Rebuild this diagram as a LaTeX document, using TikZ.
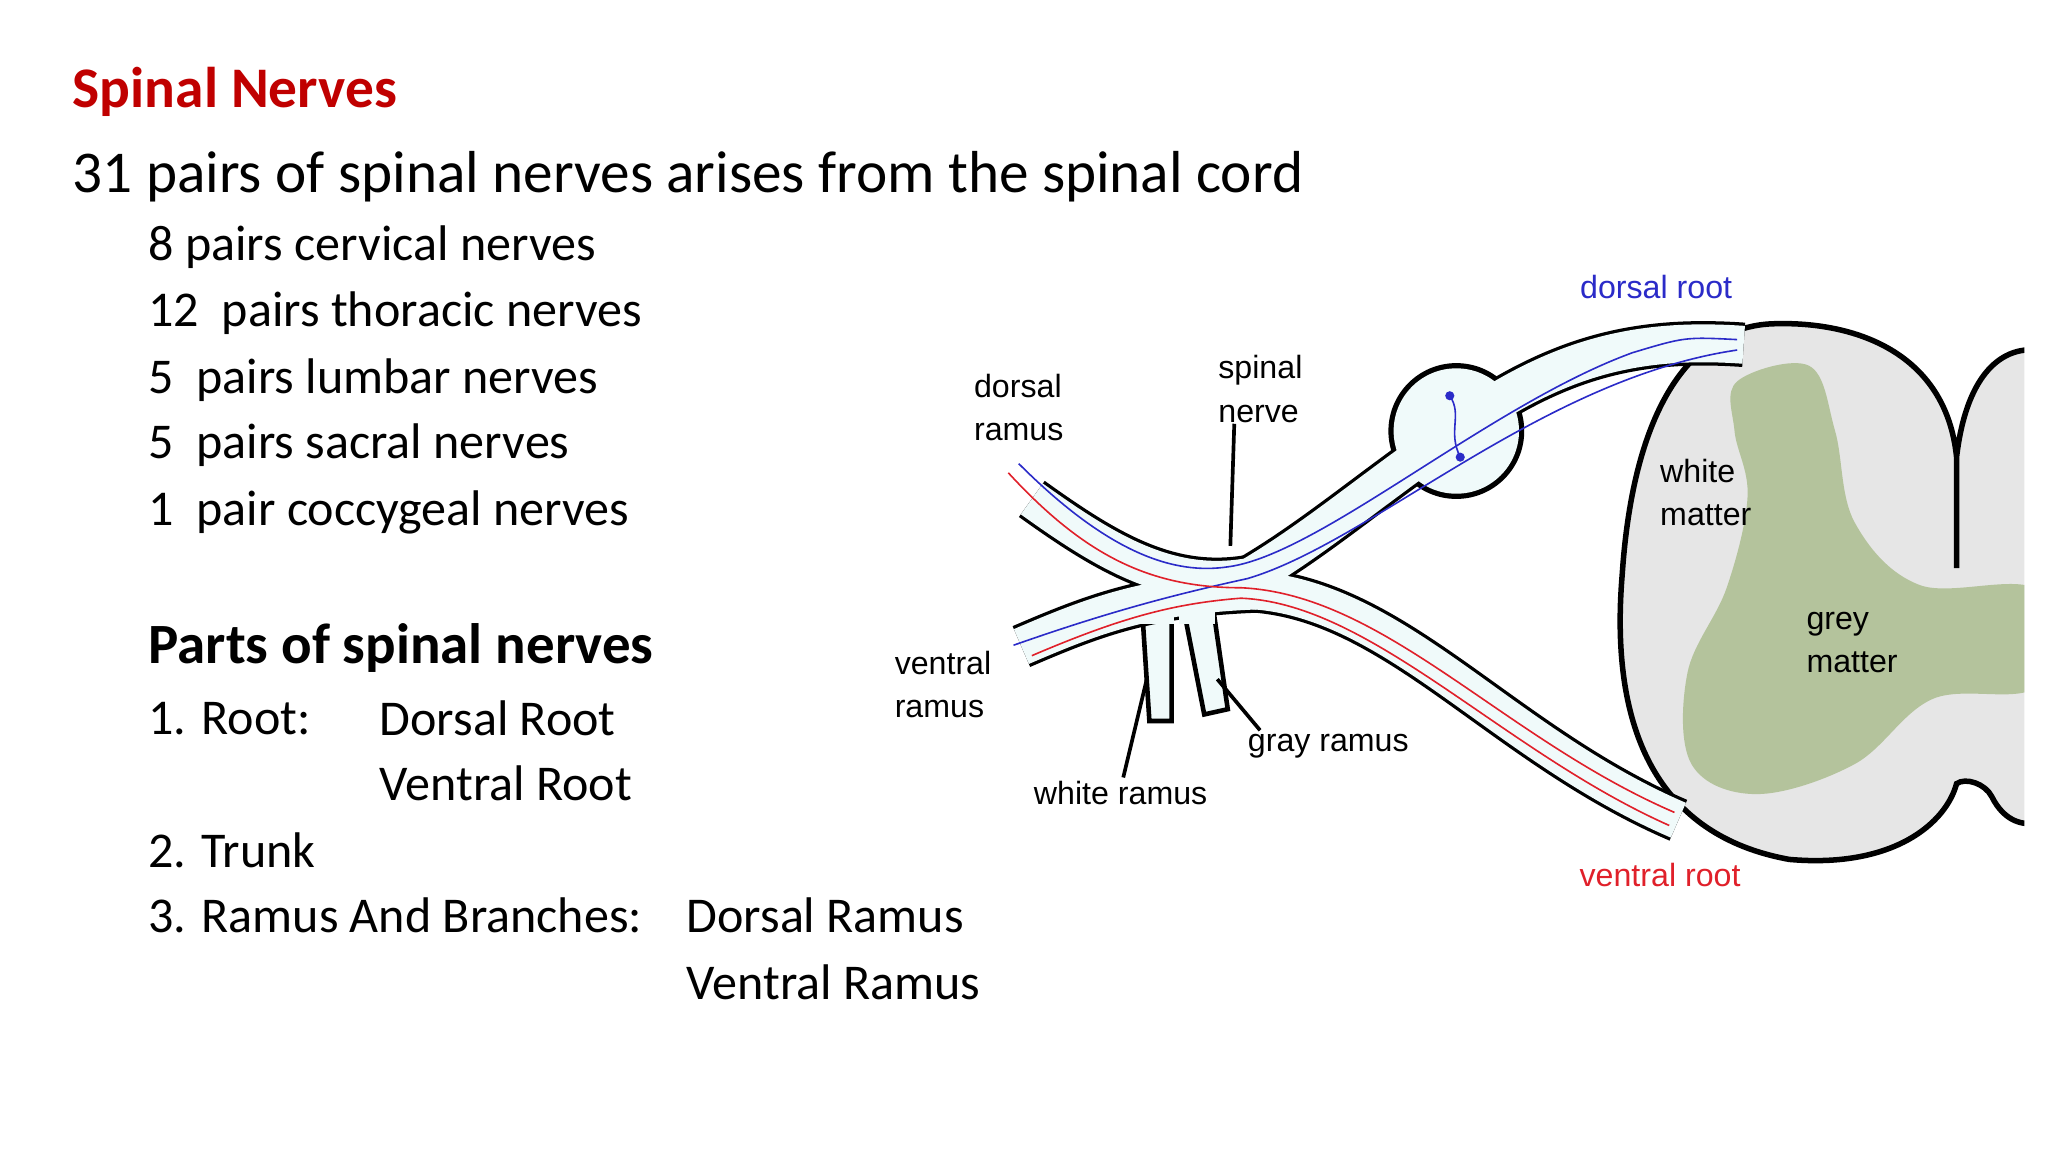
\documentclass[tikz,border=0pt]{standalone}
\usepackage{fontspec}
\setmainfont{Carlito}
\newfontfamily\lbl{Liberation Sans}
\definecolor{titred}{HTML}{C00000}
\definecolor{nervefill}{HTML}{F0FAFA}
\definecolor{wmat}{HTML}{E6E6E6}
\definecolor{gmat}{HTML}{B4C39C}
\definecolor{dblue}{HTML}{2B2BC8}
\definecolor{vred}{HTML}{E0202A}
\begin{document}
\begin{tikzpicture}[x=0.01cm, y=-0.01cm,
                    txt/.style={anchor=west, inner sep=0pt, font=\fontsize{12.9}{15}\selectfont},
                    sub/.style={anchor=west, inner sep=0pt, font=\fontsize{10.9}{13}\selectfont},
                    lab/.style={align=left, inner sep=0pt, font=\lbl\fontsize{7}{9.5}\selectfont},
                    tube out/.style={line width=0.34cm, draw=black},
                    tube in/.style={line width=0.29cm, draw=nervefill},
                    fibre/.style={line width=0.35pt}
                ]
                \useasboundingbox (0,0) rectangle (1568,882);
                % slide text
                \node[txt, text=titred, font=\bfseries\fontsize{12.5}{15}\selectfont] (title) at (55,70) {Spinal Nerves};
                \node[txt] (intro) at (55,135) {31 pairs of spinal nerves arises from the spinal cord};
                \node[sub] (cerv) at (113,189) {8 pairs cervical nerves};
                \node[sub] (thor) at (113,240) {12\ \ pairs thoracic nerves};
                \node[sub] (lumb) at (113,291) {5\ \ pairs lumbar nerves};
                \node[sub] (sacr) at (113,341) {5\ \ pairs sacral nerves};
                \node[sub] (cocc) at (113,392) {1\ \ pair coccygeal nerves};
                \node[txt, font=\bfseries\fontsize{12.4}{15}\selectfont] (parts) at (113,496) {Parts of spinal nerves};
                \node[sub] (root) at (113,550) {1. Root:};
                \node[sub] (droot) at (290,550) {Dorsal Root};
                \node[sub] (vroot) at (290,600) {Ventral Root};
                \node[sub] (trunk) at (113,651) {2. Trunk};
                \node[sub] (ramus) at (113,701) {3. Ramus And Branches:};
                \node[sub] (dram) at (525,701) {Dorsal Ramus};
                \node[sub] (vram) at (525,752) {Ventral Ramus};

                % spinal cord
                \begin{scope}
                \clip (1200,230) rectangle (1550,680);
                \draw[line width=1.2pt, fill=wmat] (1498,435) -- (1498,350)
                    .. controls (1490,270) and (1420,245) .. (1355,248)
                    .. controls (1290,252) and (1250,320) .. (1242,440)
                    .. controls (1232,560) and (1270,640) .. (1370,658)
                    .. controls (1450,665) and (1490,630) .. (1498,600)
                    .. controls (1505,595) and (1520,600) .. (1525,610)
                    .. controls (1535,630) and (1550,632) .. (1560,630)
                    -- (1560,268) .. controls (1530,265) and (1505,290) .. (1498,350);
                \fill[gmat] plot[smooth cycle, tension=0.6] coordinates {(1330,292) (1385,280) (1405,330) (1420,400) (1470,448) (1560,452) (1560,525) (1480,535) (1420,585) (1345,608) (1295,585) (1292,515) (1322,450) (1338,380) (1328,330)};
                \end{scope}

                % rami communicantes
                \draw[line width=1pt, fill=nervefill] (874,460) -- (880,552) -- (897,552) -- (897,460) -- cycle;
                \draw[line width=1pt, fill=nervefill] (905,460) -- (922,547) -- (940,543) -- (928,460) -- cycle;
                % nerve tubes
                \foreach \s/\r/\c in {tube out/52/black, tube in/48/nervefill} {
                    \draw[\s] (1335,264) .. controls (1250,258) and (1190,275) .. (1115,328);
                    \draw[\s] (1115,330) .. controls (1050,375) and (1010,410) .. (960,440);
                    \draw[\s] (965,440) .. controls (900,455) and (850,425) .. (790,382);
                    \draw[\s] (965,452) .. controls (880,455) and (840,470) .. (782,495);
                    \draw[\s] (960,452) .. controls (1070,460) and (1150,570) .. (1285,628);
                    \fill[\c] (1115,330) circle (\r);
                }
                \fill[nervefill] (872,465) rectangle (899,478);
                \fill[nervefill] (903,465) rectangle (930,478);

                % fibres
                \draw[fibre, dblue] (780,355) .. controls (850,425) and (900,440) .. (940,434)
                    .. controls (1010,425) and (1140,310) .. (1250,270) .. controls (1290,258) .. (1330,260);
                \draw[fibre, dblue] (776,494) .. controls (850,468) and (900,455) .. (955,443)
                    .. controls (1050,415) and (1180,290) .. (1330,268);
                \draw[fibre, vred] (772,362) .. controls (830,425) and (880,450) .. (950,450)
                    .. controls (1060,455) and (1150,565) .. (1282,622);
                \draw[fibre, vred] (790,502) .. controls (860,472) and (900,462) .. (950,458)
                    .. controls (1050,462) and (1150,575) .. (1278,632);
                \fill[dblue] (1110,303) circle (3.5);
                \fill[dblue] (1118,350) circle (3.5);
                \draw[fibre, dblue] (1110,303) .. controls (1120,318) and (1108,330) .. (1118,350);

                % labels
                \node[lab, text=dblue] (dorsalroot) at (1268,220) {dorsal root};
                \node[lab] (dorsalramus) at (780,312) {dorsal\\ramus};
                \node[lab] (spinalnerve) at (965,298) {spinal\\nerve};
                \node[lab] (whitematter) at (1306,377) {white\\matter};
                \node[lab] (greymatter) at (1418,492) {grey\\matter};
                \node[lab] (ventralramus) at (722,524) {ventral\\ramus};
                \node[lab] (grayramus) at (1017,571) {gray ramus};
                \node[lab] (whiteramus) at (858,607) {white ramus};
                \node[lab, text=vred] (ventralroot) at (1271,670) {ventral root};
                \coordinate (sn) at (942,418);
                \coordinate (gr) at (932,520);
                \coordinate (wr) at (878,520);
                \draw[line width=0.8pt] (spinalnerve.south) ++(-20,0) -- (sn);
                \draw[line width=0.8pt] (grayramus.north west) ++(10,-2) -- (gr);
                \draw[line width=0.8pt] (whiteramus.north) ++(2,-2) -- (wr);
            \end{tikzpicture}
\end{document}
